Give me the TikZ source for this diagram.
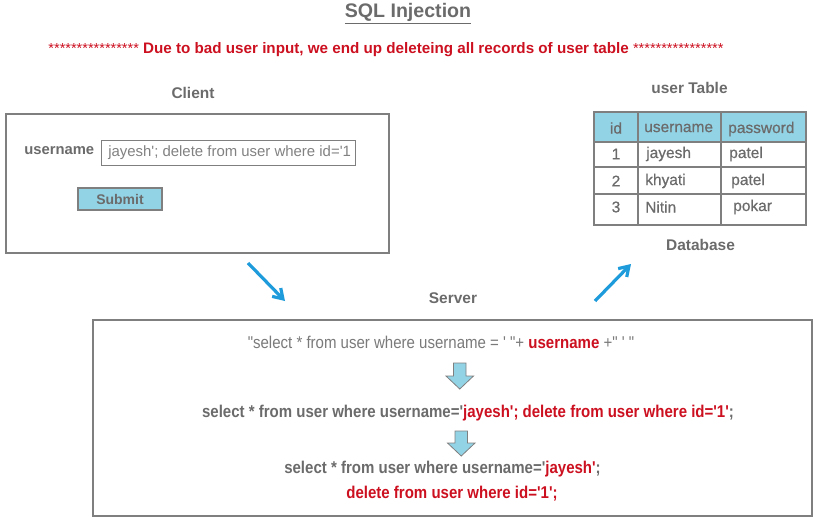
\documentclass[tikz,border=0pt]{standalone}
\usepackage{fontspec}
\setmainfont{Liberation Sans}
\newfontfamily\arialf{Liberation Sans}
\usetikzlibrary{arrows.meta}
\definecolor{tgray}{HTML}{6B6B6B}
\definecolor{bgray}{HTML}{7F7F7F}
\definecolor{sred}{HTML}{CC1020}
\definecolor{lblue}{HTML}{92D3E6}
\definecolor{ablue}{HTML}{1E9BDB}
\tikzset{
  lbl/.style={text=tgray,font=\arialf\bfseries\fontsize{11.6}{13}\selectfont,inner sep=0pt},
  frame/.style={draw=bgray,line width=2.2pt},
  flow/.style={draw=ablue,line width=2.4pt,-{Straight Barb[length=7pt,width=9pt]}},
  barrow/.style={draw=bgray,line width=0.6pt,fill=lblue},
  cell/.style={text=tgray,font=\arialf\fontsize{11.6}{13}\selectfont\addfontfeatures{FakeBold=0.6},inner sep=0pt,anchor=west},
  srv/.style={text=tgray,font=\arialf\bfseries\fontsize{12.8}{14}\selectfont,inner sep=0pt,xscale=0.88},
}
\begin{document}
\begin{tikzpicture}[x=0.75pt,y=-0.75pt]
\useasboundingbox (0,0) rectangle (828,528);
% title
\node[text=tgray,font=\arialf\bfseries\fontsize{14.7}{17}\selectfont,inner sep=0pt] (title) at (408,14) {\underline{SQL Injection}};
\node[inner sep=0pt,font=\arialf\bfseries\fontsize{11.4}{13}\selectfont,text=sred] (warn) at (386,50)
  {{\mdseries\fontsize{10.9}{12}\selectfont ****************} Due to bad user input, we end up deleteing all records of user table {\mdseries\fontsize{10.9}{12}\selectfont ****************}};
% client
\node[lbl] (clientlbl) at (193,93) {Client};
\draw[frame] (6,114) rectangle (389,253);
\node[lbl,anchor=west,font=\arialf\bfseries\fontsize{11.1}{13}\selectfont] (ulbl) at (24,151) {username};
\node[draw=bgray,line width=0.6pt,minimum width=190.5pt,minimum height=18.75pt,inner sep=0pt,anchor=west] (input) at (101,152.5) {};
\node[cell,text=tgray!85,font=\arialf\fontsize{11.2}{13}\selectfont] (intext) at (108,152.5) {jayesh'; delete from user where id='1};
\node[draw=bgray,line width=0.8pt,fill=lblue,minimum width=63pt,minimum height=16.5pt,inner sep=0pt,text=tgray,font=\arialf\bfseries\fontsize{10.5}{12}\selectfont] (submit) at (120,199) {Submit};
% table
\node[lbl] (tbllbl) at (689.5,88) {user Table};
\fill[lblue] (594,112) rectangle (806,142);
\draw[frame] (594,112) rectangle (806,225);
\draw[frame] (594,142) -- (806,142) (594,167) -- (806,167) (594,194) -- (806,194);
\draw[frame] (638,112) -- (638,225) (721,112) -- (721,225);
\node[cell,anchor=center] (h1) at (616,128) {id};
\node[cell] (h2) at (644,128) {username};
\node[cell] (h3) at (728,129) {password};
\node[cell,anchor=center] (r11) at (616,154) {1};
\node[cell] (r12) at (646,154) {jayesh};
\node[cell] (r13) at (729,154) {patel};
\node[cell,anchor=center] (r21) at (616,181) {2};
\node[cell] (r22) at (645,181) {khyati};
\node[cell] (r23) at (731,181) {patel};
\node[cell,anchor=center] (r31) at (616,207) {3};
\node[cell] (r32) at (645,207) {Nitin};
\node[cell] (r33) at (733,207) {pokar};
\node[lbl] (dblbl) at (700.5,245) {Database};
% flow arrows
\coordinate (a1s) at (248,263); \coordinate (a1e) at (285,301);
\coordinate (a2s) at (595,301); \coordinate (a2e) at (631,264);
\draw[flow] (a1s) -- (a1e);
\draw[flow] (a2s) -- (a2e);
% server
\node[lbl] (srvlbl) at (453,298) {Server};
\draw[frame] (93,320) rectangle (812,516);
\node[inner sep=0pt,text=tgray!90,font=\arialf\fontsize{12.8}{14}\selectfont,xscale=0.88] (l1) at (441,342)
  {"select * from user where username = ' "+ \textcolor{sred}{\bfseries username} +" ' "};
\draw[barrow] (453.5,363) -- (466,363) -- (466,376) -- (473.5,376) -- (459.75,389) -- (446,376) -- (453.5,376) -- cycle;
\node[srv] (l2) at (468,413) {select * from user where username='\textcolor{sred}{jayesh'; delete from user where id='1'};};
\draw[barrow] (455,431) -- (467.5,431) -- (467.5,443) -- (475,443) -- (461.25,456) -- (447.5,443) -- (455,443) -- cycle;
\node[srv] (l3) at (442.5,469) {select * from user where username='\textcolor{sred}{jayesh'};};
\node[srv,text=sred] (l4) at (452,494) {delete from user where id='1';};
\end{tikzpicture}
\end{document}
